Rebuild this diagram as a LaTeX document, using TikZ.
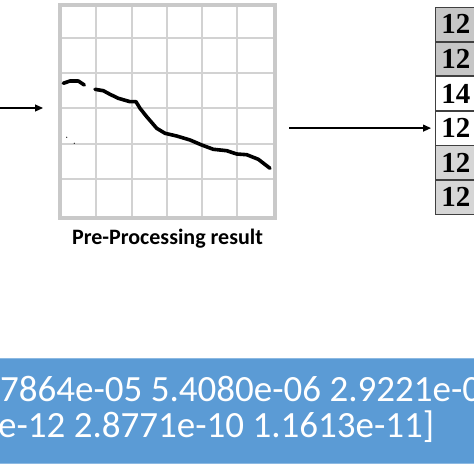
\documentclass[tikz,border=0pt]{standalone}
\usepackage{fontspec}
\usepackage{xcolor}
\usepackage{tikz}
\usetikzlibrary{arrows.meta, positioning}

\newfontfamily\carlito{Carlito}
\newfontfamily\serifnum{Liberation Serif}
\definecolor{vecblue}{HTML}{5B9BD5}
\definecolor{gridgray}{HTML}{C9C9C9}

\tikzset{
  arr/.style={line width=1.2pt, -{Triangle[length=8pt,width=7pt]}},
  cell/.style={draw=black!75, line width=0.8pt, minimum height=33.8pt, text width=80pt,
    inner xsep=6pt, inner ysep=0pt, align=left, anchor=north west,
    font=\serifnum\bfseries\fontsize{29}{30}\selectfont},
  vectext/.style={text=white, inner sep=0pt, anchor=base west, font=\carlito\fontsize{37}{40}\selectfont}
}

\begin{document}
\begin{tikzpicture}[x=1pt, y=1pt]
  \useasboundingbox (0,0) rectangle (474,474);
  \clip (0,0) rectangle (474,474);

  % pre-processed scan with grid
  \node[draw=gridgray, line width=4pt, minimum width=215pt, minimum height=213pt, inner sep=0pt]
    (plot) at (167.5,362.5) {};
  \foreach \x in {96,132,167,202,237}
    \draw[gray!35, line width=1.5pt] (\x,258) -- (\x,467);
  \foreach \y in {436,401,366,330,295}
    \draw[gray!35, line width=1.5pt] (62,\y) -- (273,\y);
  % the extracted trace
  \draw[line width=3.6pt, line join=round, line cap=round]
    (63.3,390.7) -- (70,393) -- (78.3,393) -- (84.3,389);
  \draw[line width=3.6pt, line join=round, line cap=round]
    (95,384.7) -- (103.3,383.3) -- (110,379.7) -- (118.3,375.7) -- (130,372.3) -- (136,372.3)
    -- (140,365.7) -- (146.7,357.3) -- (156.7,345.7) -- (165,340.7) -- (176.7,338) -- (190,334)
    -- (201.7,329) -- (213.3,324.7) -- (226.7,323.3) -- (236.7,320) -- (246.7,319.3)
    -- (258.3,314.7) -- (270,305.7);
  \fill (66.7,336.7) circle (0.6pt) (74.3,330.7) circle (0.6pt);
  \node[below=9pt of plot, inner sep=0pt, font=\carlito\bfseries\fontsize{22}{24}\selectfont]
    (plotlabel) {Pre-Processing result};

  % feature table
  \node[cell, fill=gray!45] (r1) at (435,467) {12};
  \node[cell, fill=gray!45, below=0pt of r1] (r2) {12};
  \node[cell, fill=white, below=0pt of r2] (r3) {14};
  \node[cell, fill=white, below=0pt of r3] (r4) {12};
  \node[cell, fill=gray!32, below=0pt of r4] (r5) {12};
  \node[cell, fill=gray!32, below=0pt of r5] (r6) {12};

  % arrows
  \coordinate (src) at (0,366);
  \draw[arr] (src) -- ([xshift=-15pt]plot.west |- src);
  \draw[arr] ([xshift=12pt]plot.east |- r4) -- ([xshift=-4pt]r4.west);

  % feature vector
  \node[fill=vecblue, draw=vecblue!70!white, line width=0.8pt, minimum width=490pt, minimum height=105pt,
    anchor=north west, inner sep=0pt] (vec) at (-8,116) {};
  \node[vectext] (vecA) at (0,72.3) {7864e-05 5.4080e-06 2.9221e-0};
  \node[vectext] (vecB) at (-2,36.7) {e-12 2.8771e-10 1.1613e-11]};
\end{tikzpicture}
\end{document}
